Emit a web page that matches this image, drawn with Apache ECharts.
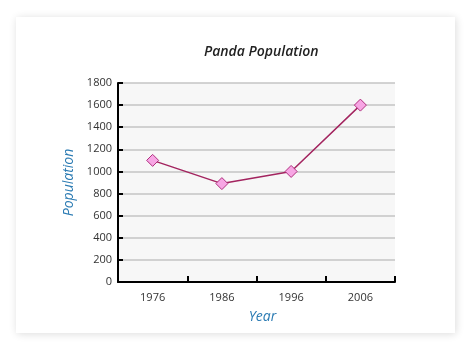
<!DOCTYPE html>
<html>
<head>
<meta charset="utf-8">
<script src="https://cdn.jsdelivr.net/npm/echarts@6/dist/echarts.min.js"></script>
<style>
  html, body { margin: 0; padding: 0; background: #ffffff; }
  #main { width: 474px; height: 353px; }
</style>
</head>
<body>
<div id="main"></div>
<script>
var years = ['1976', '1986', '1996', '2006'];
var population = [1100, 890, 1000, 1600];
var yMin = 0, yMax = 1800, yStep = 200;

var chart = echarts.init(document.getElementById('main'));

var option = {
  backgroundColor: '#ffffff',
  graphic: [{
    type: 'rect',
    z: -10,
    shape: { x: 16, y: 17, width: 439, height: 316 },
    style: {
      fill: '#ffffff',
      shadowBlur: 8,
      shadowColor: 'rgba(0,0,0,0.14)',
      shadowOffsetX: 1,
      shadowOffsetY: 1
    }
  }],
  title: {
    text: 'Panda Population',
    left: 199,
    top: 40,
    textStyle: {
      fontFamily: 'Open Sans',
      fontStyle: 'italic',
      fontWeight: 600,
      fontSize: 14,
      color: '#222222'
    }
  },
  grid: {
    left: 118,
    right: 79,
    top: 83,
    bottom: 71,
    show: true,
    backgroundColor: '#f7f7f7',
    borderWidth: 0
  },
  xAxis: {
    type: 'category',
    data: years,
    boundaryGap: true,
    name: 'Year',
    nameLocation: 'middle',
    nameGap: 28,
    nameTextStyle: {
      fontFamily: 'Open Sans',
      fontStyle: 'italic',
      fontSize: 14,
      color: '#2b7bb3',
      padding: [0, 0, 0, 12]
    },
    axisLine: { lineStyle: { color: '#000000', width: 2 } },
    axisTick: { show: true, inside: true, length: 6, lineStyle: { color: '#000000', width: 2 } },
    axisLabel: {
      margin: 10,
      fontFamily: 'Open Sans',
      fontSize: 11,
      color: '#333333'
    },
    splitLine: { show: false }
  },
  yAxis: {
    type: 'value',
    min: yMin,
    max: yMax,
    interval: yStep,
    name: 'Population',
    nameLocation: 'middle',
    nameGap: 30,
    nameTextStyle: {
      fontFamily: 'Open Sans',
      fontStyle: 'italic',
      fontSize: 14,
      color: '#2b7bb3'
    },
    axisLine: { show: true, lineStyle: { color: '#000000', width: 2 } },
    axisTick: { show: true, inside: true, length: 5, lineStyle: { color: '#000000', width: 2 } },
    axisLabel: {
      margin: 6,
      fontFamily: 'Open Sans',
      fontSize: 11,
      color: '#333333',
      formatter: function (v) { return String(v); }
    },
    splitLine: { show: true, lineStyle: { color: '#c4c4c4', width: 1.5 } }
  },
  series: [{
    type: 'line',
    data: population,
    symbol: 'diamond',
    symbolSize: 12,
    lineStyle: { color: '#a3245f', width: 1.5 },
    itemStyle: { color: '#f7a6e4', borderColor: '#b0307f', borderWidth: 1 }
  }]
};

chart.setOption(option);
</script>
</body>
</html>
